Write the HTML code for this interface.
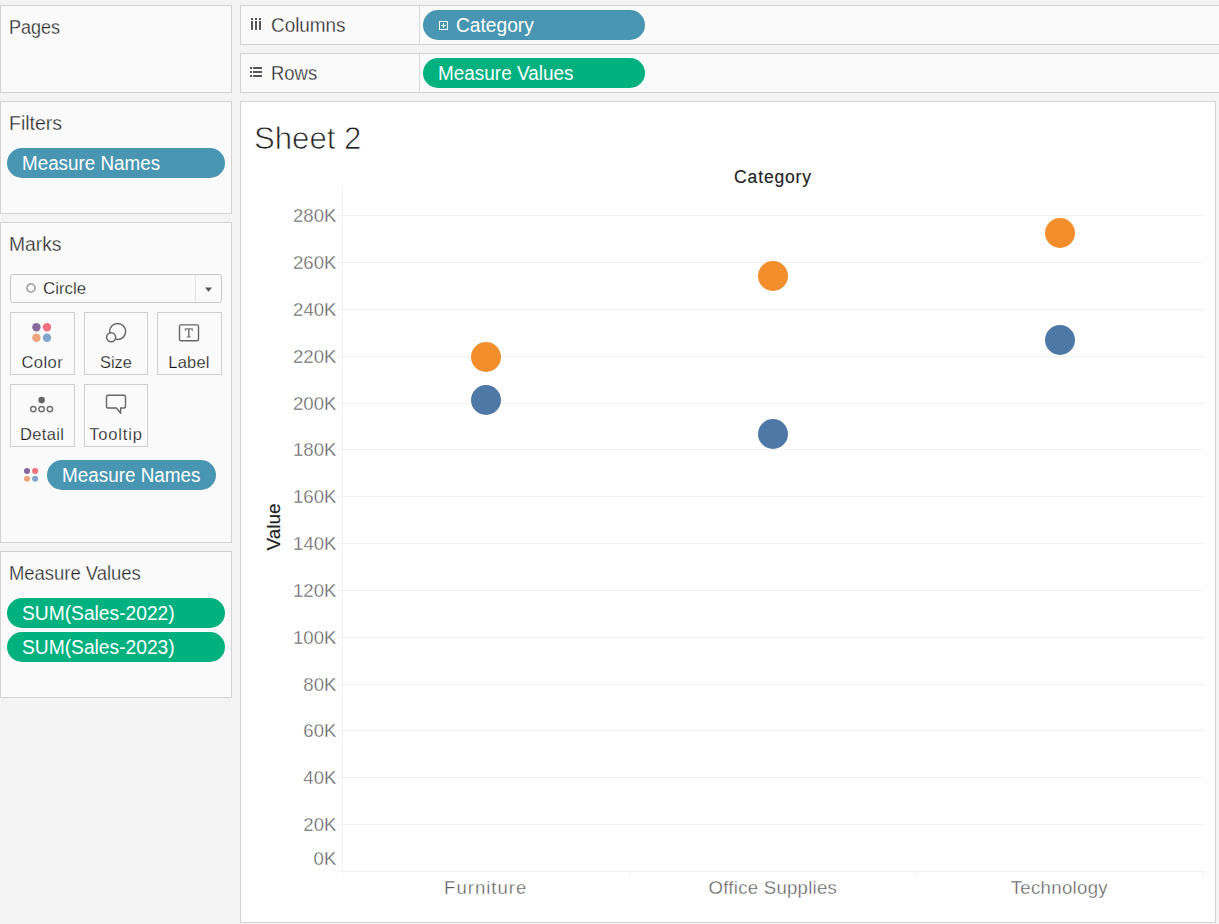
<!DOCTYPE html>
<html>
<head>
<meta charset="utf-8">
<title>Sheet 2</title>
<style>
html,body{margin:0;padding:0;}
body{width:1219px;height:924px;overflow:hidden;background:#f4f4f4;font-family:"Liberation Sans",sans-serif;position:relative;color:#333;}
.abs{position:absolute;}
.t{position:absolute;white-space:nowrap;line-height:22px;font-family:"Liberation Sans",sans-serif;}
.panel{position:absolute;background:#fafafa;border:1px solid #d3d3d3;box-sizing:border-box;}
.pill{position:absolute;height:30px;border-radius:15px;box-sizing:border-box;}
.blue{background:#4996b2;}
.green{background:#00b180;}
.btn{position:absolute;width:65px;height:63px;border:1px solid #d0d0d0;box-sizing:border-box;background:#fafafa;}
.shelf{position:absolute;left:240px;width:990px;height:40px;background:#fafafa;border:1px solid #d3d3d3;box-sizing:border-box;}
.shelf .div{position:absolute;left:178px;top:0;width:1px;height:38px;background:#d9d9d9;}
.grid{position:absolute;left:337px;width:867px;height:1px;background:#f2f2f2;}
.dot{position:absolute;width:30px;height:30px;border-radius:50%;}
</style>
</head>
<body>

<!-- LEFT PANELS -->
<div class="panel" style="left:0;top:5px;width:232px;height:88px;"></div>
<div class="panel" style="left:0;top:101px;width:232px;height:113px;"></div>
<div class="panel" style="left:0;top:222px;width:232px;height:321px;"></div>
<div class="panel" style="left:0;top:551px;width:232px;height:147px;"></div>

<!-- pills -->
<div class="pill blue" style="left:7px;top:148px;width:218px;"></div>
<div class="pill blue" style="left:47px;top:460px;width:169px;"></div>
<div class="pill green" style="left:7px;top:598px;width:218px;"></div>
<div class="pill green" style="left:7px;top:632px;width:218px;"></div>

<!-- mark type dropdown -->
<div class="abs" style="left:10px;top:274px;width:212px;height:29px;border:1px solid #c9c9c9;border-radius:3px;box-sizing:border-box;background:#fafafa;">
  <div class="abs" style="left:184px;top:0;width:1px;height:27px;background:#e0e0e0;"></div>
  <svg class="abs" style="left:14px;top:7px;" width="12" height="12" viewBox="0 0 12 12"><circle cx="6" cy="6" r="4.1" fill="none" stroke="#8a8a8a" stroke-width="1.3"/></svg>
  <svg class="abs" style="left:193px;top:12px;" width="9" height="6" viewBox="0 0 9 6"><path d="M1 0.6 L8 0.6 L4.5 4.8 Z" fill="#555"/></svg>
</div>

<!-- marks buttons -->
<div class="btn" style="left:10px;top:312px;">
  <svg class="abs" style="left:15px;top:4px;" width="32" height="32" viewBox="0 0 32 32">
    <circle cx="10.4" cy="10.2" r="4.2" fill="#85699c"/><circle cx="21" cy="10.2" r="4.2" fill="#f3707f"/>
    <circle cx="10.4" cy="20.8" r="4.2" fill="#eea57d"/><circle cx="21" cy="20.8" r="4.2" fill="#81a4cd"/>
  </svg>
</div>
<div class="btn" style="left:84px;top:312px;width:64px;">
  <svg class="abs" style="left:15px;top:4px;" width="34" height="32" viewBox="0 0 34 32">
    <circle cx="17.6" cy="14.5" r="8" fill="none" stroke="#666" stroke-width="1.5"/>
    <circle cx="11.1" cy="20.2" r="4.5" fill="#fafafa" stroke="#666" stroke-width="1.5"/>
  </svg>
</div>
<div class="btn" style="left:157px;top:312px;">
  <svg class="abs" style="left:15px;top:4px;" width="34" height="32" viewBox="0 0 34 32">
    <rect x="6.5" y="7.9" width="19" height="15.8" rx="1.5" fill="#fcfcfc" stroke="#666" stroke-width="1.4"/>
    <path d="M11.8 11.2 H19.8 V14 H19 L18.5 12.4 H16.6 V19.3 L18 19.8 V20.6 H13.6 V19.8 L15 19.3 V12.4 H13.1 L12.6 14 H11.8 Z" fill="#7a7a7a"/>
  </svg>
</div>
<div class="btn" style="left:10px;top:384px;">
  <svg class="abs" style="left:15px;top:4px;" width="34" height="32" viewBox="0 0 34 32">
    <circle cx="15.6" cy="11.1" r="3.3" fill="#666"/>
    <circle cx="7.3" cy="20.1" r="2.7" fill="none" stroke="#707070" stroke-width="1.5"/>
    <circle cx="15.6" cy="20.1" r="2.7" fill="none" stroke="#707070" stroke-width="1.5"/>
    <circle cx="23.9" cy="20.1" r="2.7" fill="none" stroke="#707070" stroke-width="1.5"/>
  </svg>
</div>
<div class="btn" style="left:84px;top:384px;width:64px;">
  <svg class="abs" style="left:15px;top:4px;" width="34" height="32" viewBox="0 0 34 32">
    <path d="M8 6.2 H24 Q25.5 6.2 25.5 7.7 V17.5 Q25.5 19 24 19 H20.6 V24.3 L16.3 19 H8 Q6.5 19 6.5 17.5 V7.7 Q6.5 6.2 8 6.2 Z" fill="none" stroke="#666" stroke-width="1.4" stroke-linejoin="round"/>
  </svg>
</div>

<!-- marks pill icon -->
<svg class="abs" style="left:20px;top:464px;" width="22" height="22" viewBox="0 0 22 22">
  <circle cx="7" cy="6.9" r="3" fill="#85699c"/><circle cx="15.1" cy="6.9" r="3" fill="#f3707f"/>
  <circle cx="7" cy="14.8" r="3" fill="#eea57d"/><circle cx="15.1" cy="14.8" r="3" fill="#81a4cd"/>
</svg>

<!-- SHELVES -->
<div class="shelf" style="top:5px;"><div class="div"></div>
  <svg class="abs" style="left:9px;top:11px;" width="14" height="15" viewBox="0 0 14 15" shape-rendering="crispEdges">
    <g fill="#555"><rect x="1" y="1" width="2" height="2"/><rect x="5" y="1" width="2" height="2"/><rect x="9" y="1" width="2" height="2"/>
    <rect x="1" y="4" width="2" height="9"/><rect x="5" y="4" width="2" height="9"/><rect x="9" y="4" width="2" height="9"/></g>
  </svg>
</div>
<div class="shelf" style="top:53px;"><div class="div"></div>
  <svg class="abs" style="left:8px;top:12px;" width="15" height="13" viewBox="0 0 15 13" shape-rendering="crispEdges">
    <g fill="#555"><rect x="1" y="1" width="2" height="2"/><rect x="1" y="5" width="2" height="2"/><rect x="1" y="9" width="2" height="2"/>
    <rect x="4" y="1" width="9" height="2"/><rect x="4" y="5" width="9" height="2"/><rect x="4" y="9" width="9" height="2"/></g>
  </svg>
</div>
<div class="pill blue" style="left:423px;top:10px;width:222px;">
  <svg class="abs" style="left:16px;top:11px;" width="9" height="9" viewBox="0 0 9 9"><rect x="0.5" y="0.5" width="8" height="8" fill="none" stroke="#fff" stroke-width="1"/><path d="M2 4.5 H7 M4.5 2 V7" stroke="#fff" stroke-width="1"/></svg>
</div>
<div class="pill green" style="left:423px;top:58px;width:222px;"></div>

<!-- VIEW -->
<div class="panel" id="view" style="left:240px;top:101px;width:976px;height:822px;background:#fff;"></div>

<!-- gridlines -->
<div class="grid" style="top:824px;"></div>
<div class="grid" style="top:777px;"></div>
<div class="grid" style="top:730px;"></div>
<div class="grid" style="top:684px;"></div>
<div class="grid" style="top:637px;"></div>
<div class="grid" style="top:590px;"></div>
<div class="grid" style="top:543px;"></div>
<div class="grid" style="top:496px;"></div>
<div class="grid" style="top:449px;"></div>
<div class="grid" style="top:403px;"></div>
<div class="grid" style="top:356px;"></div>
<div class="grid" style="top:309px;"></div>
<div class="grid" style="top:262px;"></div>
<div class="grid" style="top:215px;"></div>
<!-- axes -->
<div class="abs" style="left:342px;top:186px;width:1px;height:689px;background:#f0f0f0;"></div>
<div class="abs" style="left:337px;top:871px;width:867px;height:1px;background:#f0f0f0;"></div>
<div class="abs" style="left:629px;top:871px;width:1px;height:4px;background:#f0f0f0;"></div>
<div class="abs" style="left:916px;top:871px;width:1px;height:4px;background:#f0f0f0;"></div>
<div class="abs" style="left:1203px;top:871px;width:1px;height:4px;background:#f0f0f0;"></div>

<!-- rotated axis title -->
<div class="abs" id="vlabel" style="left:264px;top:517.3px;width:20px;height:20px;"><div id="vtext" style="position:absolute;left:50%;top:50%;transform:translate(-50%,-50%) rotate(-90deg) scaleX(0.992);font-size:19px;line-height:20px;color:#222;white-space:nowrap;-webkit-text-stroke:0.15px #222;">Value</div></div>

<!-- marks -->
<div class="dot" style="left:471px;top:342px;background:#f28e2b;"></div>
<div class="dot" style="left:471px;top:385px;background:#4e79a7;"></div>
<div class="dot" style="left:758px;top:261px;background:#f28e2b;"></div>
<div class="dot" style="left:758px;top:419px;background:#4e79a7;"></div>
<div class="dot" style="left:1045px;top:218px;background:#f28e2b;"></div>
<div class="dot" style="left:1045px;top:325px;background:#4e79a7;"></div>

<!-- text -->
<div id="t_pages" class="t" style="left:9.1px;top:16.2px;font-size:19.5px;color:#262626;-webkit-text-stroke:0.3px #fafafa;transform:scaleX(0.924);transform-origin:0 0;">Pages</div>
<div id="t_filters" class="t" style="left:9.2px;top:111.9px;font-size:19.5px;color:#262626;-webkit-text-stroke:0.3px #fafafa;transform:scaleX(0.999);transform-origin:0 0;">Filters</div>
<div id="t_marks" class="t" style="left:9.1px;top:233.1px;font-size:19.5px;color:#262626;-webkit-text-stroke:0.3px #fafafa;transform:scaleX(0.989);transform-origin:0 0;">Marks</div>
<div id="t_mv" class="t" style="left:9.1px;top:561.8px;font-size:19.5px;color:#262626;-webkit-text-stroke:0.3px #fafafa;transform:scaleX(0.945);transform-origin:0 0;">Measure Values</div>
<div id="p_filt" class="t" style="left:21.8px;top:152.3px;font-size:19.5px;color:#fff;transform:scaleX(0.965);transform-origin:0 0;">Measure Names</div>
<div id="p_marks" class="t" style="left:61.8px;top:464.3px;font-size:19.5px;color:#fff;transform:scaleX(0.968);transform-origin:0 0;">Measure Names</div>
<div id="p_s22" class="t" style="left:22.1px;top:602.4px;font-size:19.5px;color:#fff;transform:scaleX(0.985);transform-origin:0 0;">SUM(Sales-2022)</div>
<div id="p_s23" class="t" style="left:22.1px;top:636.4px;font-size:19.5px;color:#fff;transform:scaleX(0.985);transform-origin:0 0;">SUM(Sales-2023)</div>
<div id="p_cat" class="t" style="left:455.7px;top:14.2px;font-size:19.5px;color:#fff;transform:scaleX(0.983);transform-origin:0 0;">Category</div>
<div id="p_mv" class="t" style="left:437.8px;top:62.0px;font-size:19.5px;color:#fff;transform:scaleX(0.971);transform-origin:0 0;">Measure Values</div>
<div id="s_cols" class="t" style="left:271.3px;top:14.0px;font-size:19.5px;color:#262626;-webkit-text-stroke:0.3px #fafafa;transform:scaleX(0.969);transform-origin:0 0;">Columns</div>
<div id="s_rows" class="t" style="left:271.0px;top:62.0px;font-size:19.5px;color:#262626;-webkit-text-stroke:0.3px #fafafa;transform:scaleX(0.946);transform-origin:0 0;">Rows</div>
<div id="m_circle" class="t" style="left:42.5px;top:277.4px;font-size:16.5px;color:#151515;-webkit-text-stroke:0.25px #fafafa;transform:scaleX(1.021);transform-origin:0 0;">Circle</div>
<div id="b_color" class="t" style="left:21.5px;top:351.3px;font-size:16.5px;color:#151515;letter-spacing:0.44px;-webkit-text-stroke:0.25px #fafafa;">Color</div>
<div id="b_size" class="t" style="left:99.8px;top:351.3px;font-size:16.5px;color:#151515;-webkit-text-stroke:0.25px #fafafa;transform:scaleX(0.989);transform-origin:0 0;">Size</div>
<div id="b_label" class="t" style="left:168.3px;top:350.5px;font-size:16.5px;color:#151515;letter-spacing:0.21px;-webkit-text-stroke:0.25px #fafafa;">Label</div>
<div id="b_detail" class="t" style="left:20.0px;top:423.2px;font-size:16.5px;color:#151515;letter-spacing:0.35px;-webkit-text-stroke:0.25px #fafafa;">Detail</div>
<div id="b_tooltip" class="t" style="left:89.3px;top:423.2px;font-size:16.5px;color:#151515;letter-spacing:0.82px;-webkit-text-stroke:0.25px #fafafa;">Tooltip</div>
<div id="c_title" class="t" style="left:253.7px;top:126.6px;font-size:31.5px;color:#222;-webkit-text-stroke:0.75px #fff;transform:scaleX(0.989);transform-origin:0 0;">Sheet 2</div>
<div id="c_hdr" class="t" style="left:734.1px;top:165.8px;font-size:17.5px;color:#222;letter-spacing:0.85px;-webkit-text-stroke:0.15px #222;">Category</div>
<div id="x_furn" class="t" style="left:444.1px;top:876.7px;font-size:18.6px;color:#5c5c5c;letter-spacing:0.98px;-webkit-text-stroke:0.35px #fff;">Furniture</div>
<div id="x_off" class="t" style="left:708.5px;top:876.7px;font-size:18.6px;color:#5c5c5c;letter-spacing:0.26px;-webkit-text-stroke:0.35px #fff;">Office Supplies</div>
<div id="x_tech" class="t" style="left:1010.7px;top:876.5px;font-size:18.6px;color:#5c5c5c;letter-spacing:0.32px;-webkit-text-stroke:0.35px #fff;">Technology</div>
<div id="y_0" class="t" style="left:313.6px;top:847.6px;font-size:18.6px;color:#5c5c5c;-webkit-text-stroke:0.35px #fff;">0K</div>
<div id="y_1" class="t" style="left:303.3px;top:813.8px;font-size:18.6px;color:#5c5c5c;-webkit-text-stroke:0.35px #fff;">20K</div>
<div id="y_2" class="t" style="left:303.3px;top:766.8px;font-size:18.6px;color:#5c5c5c;-webkit-text-stroke:0.35px #fff;">40K</div>
<div id="y_3" class="t" style="left:303.3px;top:719.8px;font-size:18.6px;color:#5c5c5c;-webkit-text-stroke:0.35px #fff;">60K</div>
<div id="y_4" class="t" style="left:303.3px;top:673.8px;font-size:18.6px;color:#5c5c5c;-webkit-text-stroke:0.35px #fff;">80K</div>
<div id="y_5" class="t" style="left:293.0px;top:626.8px;font-size:18.6px;color:#5c5c5c;-webkit-text-stroke:0.35px #fff;">100K</div>
<div id="y_6" class="t" style="left:293.0px;top:579.8px;font-size:18.6px;color:#5c5c5c;-webkit-text-stroke:0.35px #fff;">120K</div>
<div id="y_7" class="t" style="left:293.1px;top:532.8px;font-size:18.6px;color:#5c5c5c;-webkit-text-stroke:0.35px #fff;">140K</div>
<div id="y_8" class="t" style="left:293.0px;top:485.8px;font-size:18.6px;color:#5c5c5c;-webkit-text-stroke:0.35px #fff;">160K</div>
<div id="y_9" class="t" style="left:293.0px;top:438.8px;font-size:18.6px;color:#5c5c5c;-webkit-text-stroke:0.35px #fff;">180K</div>
<div id="y_10" class="t" style="left:293.0px;top:392.8px;font-size:18.6px;color:#5c5c5c;-webkit-text-stroke:0.35px #fff;">200K</div>
<div id="y_11" class="t" style="left:293.0px;top:345.8px;font-size:18.6px;color:#5c5c5c;-webkit-text-stroke:0.35px #fff;">220K</div>
<div id="y_12" class="t" style="left:293.1px;top:298.8px;font-size:18.6px;color:#5c5c5c;-webkit-text-stroke:0.35px #fff;">240K</div>
<div id="y_13" class="t" style="left:293.0px;top:251.8px;font-size:18.6px;color:#5c5c5c;-webkit-text-stroke:0.35px #fff;">260K</div>
<div id="y_14" class="t" style="left:293.0px;top:204.8px;font-size:18.6px;color:#5c5c5c;-webkit-text-stroke:0.35px #fff;">280K</div>

</body>
</html>
